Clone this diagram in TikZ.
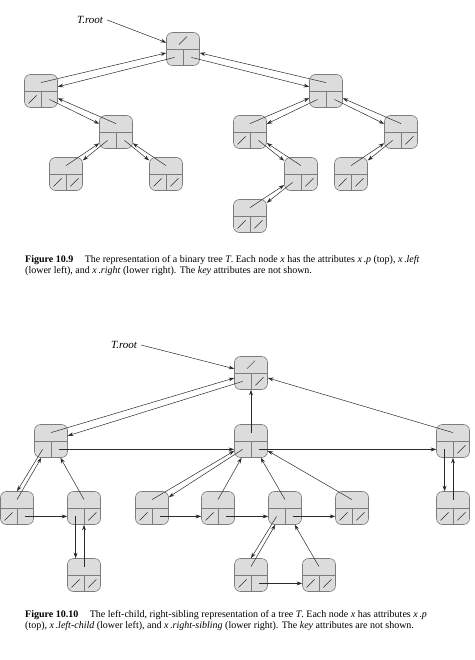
\documentclass[tikz,border=0pt]{standalone}
\usepackage{fontspec}
\setmainfont{Liberation Serif}
\usepackage{tikz}
\usetikzlibrary{arrows.meta,calc,positioning}
\definecolor{Ink}{HTML}{2A2A2A}
\definecolor{Rim}{HTML}{7C7C7C}
\definecolor{Cell}{HTML}{DCDCDC}

\begin{document}
\begin{tikzpicture}[x=1pt,y=-1pt,
  cell/.style={draw=Rim,fill=Cell,rounded corners=6pt,minimum size=33pt,
    inner sep=0pt,line width=0.6pt},
  div/.style={draw=Rim,line width=0.6pt},
  nil/.style={draw=Ink,line width=0.5pt},
  ptr/.style={-{Stealth[length=5.5pt,width=3.8pt]},draw=Ink,line width=0.5pt},
  lbl/.style={font=\fontsize{11}{12}\selectfont\itshape,inner sep=4pt},
  captext/.style={font=\fontsize{10}{10.6}\selectfont,align=left,inner sep=0pt,
    anchor=base west}
]
\useasboundingbox (0,0) rectangle (474,660);

% Figure 10.9: binary tree.
\node[cell] (a0) at (183,49) {};
\node[cell] (a1) at (41,91) {};
\node[cell] (a2) at (326,91) {};
\node[cell] (a12) at (116,132) {};
\node[cell] (a21) at (250,132) {};
\node[cell] (a22) at (401,132) {};
\node[cell] (a121) at (66,174) {};
\node[cell] (a122) at (166,174) {};
\node[cell] (a212) at (301,174) {};
\node[cell] (a221) at (351,174) {};
\node[cell] (a2121) at (250,216) {};
\node[lbl] (troot1) at (90,20) {T.root};

% Figure 10.10: left-child, right-sibling.
\node[cell] (b0) at (251,373) {};
\node[cell] (b1) at (51,441) {};
\node[cell] (b2) at (251,441) {};
\node[cell] (b3) at (453,441) {};
\node[cell] (b11) at (17,508) {};
\node[cell] (b12) at (84,508) {};
\node[cell] (b21) at (152,508) {};
\node[cell] (b22) at (218,508) {};
\node[cell] (b23) at (285,508) {};
\node[cell] (b24) at (352,508) {};
\node[cell] (b31) at (453,508) {};
\node[cell] (b121) at (84,575) {};
\node[cell] (b231) at (251,575) {};
\node[cell] (b232) at (319,575) {};
\node[lbl] (troot2) at (124,345) {T.root};

% fields of every cell: p (top), l (lower left), r (lower right)
\foreach \n in {a0,a1,a2,a12,a21,a22,a121,a122,a212,a221,a2121,
    b0,b1,b2,b3,b11,b12,b21,b22,b23,b24,b31,b121,b231,b232}{
  \draw[div] (\n.west)--(\n.east) (\n.center)--(\n.south);
  \coordinate (\n-p) at ($(\n.center)!0.5!(\n.north)$);
  \coordinate (\n-l) at ($(\n.center)!0.5!(\n.south west)$);
  \coordinate (\n-r) at ($(\n.center)!0.5!(\n.south east)$);
}

% NIL fields
\foreach \f in {a0-p,a1-l,a121-l,a121-r,a122-l,a122-r,a21-l,a212-r,
    a2121-l,a2121-r,a22-r,a221-l,a221-r,
    b0-p,b0-r,b3-r,b11-l,b12-r,b121-l,b121-r,b21-l,b22-l,b24-l,b24-r,
    b31-l,b31-r,b231-l,b232-l,b232-r}
  \draw[nil] ($(\f)+(-4,4)$)--($(\f)+(4,-4)$);

% pointers, Figure 10.9
\draw[ptr] (troot1.east)--(a0);
\draw[ptr] (a1-p)--(a0); \draw[ptr] (a0-l)--(a1);
\draw[ptr] (a2-p)--(a0); \draw[ptr] (a0-r)--(a2);
\draw[ptr] (a12-p)--(a1); \draw[ptr] (a1-r)--(a12);
\draw[ptr] (a121-p)--(a12); \draw[ptr] (a12-l)--(a121);
\draw[ptr] (a122-p)--(a12); \draw[ptr] (a12-r)--(a122);
\draw[ptr] (a21-p)--(a2); \draw[ptr] (a2-l)--(a21);
\draw[ptr] (a22-p)--(a2); \draw[ptr] (a2-r)--(a22);
\draw[ptr] (a212-p)--(a21); \draw[ptr] (a21-r)--(a212);
\draw[ptr] (a2121-p)--(a212); \draw[ptr] (a212-l)--(a2121);
\draw[ptr] (a221-p)--(a22); \draw[ptr] (a22-l)--(a221);

% pointers, Figure 10.10
\draw[ptr] (troot2.east)--(b0);
\draw[ptr] (b1-p)--(b0); \draw[ptr] (b0-l)--(b1);
\draw[ptr] (b2-p)--(b0); \draw[ptr] (b3-p)--(b0);
\draw[ptr] (b1-r)--(b1-r -| b2.west);
\draw[ptr] (b2-r)--(b2-r -| b3.west);
\draw[ptr] (b1-l)--(b11.north); \draw[ptr] (b11-p)--(b1);
\draw[ptr] (b12-p)--(b1);
\draw[ptr] (b11-r)--(b11-r -| b12.west);
\draw[ptr] (b12-l)--(b12-l |- b121.north); \draw[ptr] (b121-p)--(b12);
\draw[ptr] (b2-l)--(b21); \draw[ptr] (b21-p)--(b2);
\draw[ptr] (b22-p)--(b2); \draw[ptr] (b23-p)--(b2); \draw[ptr] (b24-p)--(b2);
\draw[ptr] (b21-r)--(b21-r -| b22.west);
\draw[ptr] (b22-r)--(b22-r -| b23.west);
\draw[ptr] (b23-r)--(b23-r -| b24.west);
\draw[ptr] (b23-l)--(b231.north); \draw[ptr] (b231-p)--(b23);
\draw[ptr] (b232-p)--(b23);
\draw[ptr] (b231-r)--(b231-r -| b232.west);
\draw[ptr] (b3-l)--(b3-l |- b31.north); \draw[ptr] (b31-p)--(b3);

% captions
\node[captext] (cap1) at (25,273) {\textbf{Figure 10.9}\hspace{0.9em} The representation
  of a binary tree \textit{T}. Each node \textit{x} has the attributes
  \textit{x}\,.\textit{p} (top), \textit{x}\,.\textit{left}\\
  (lower left), and \textit{x}\,.\textit{right} (lower right). The \textit{key}
  attributes are not shown.};
\node[captext] (cap2) at (25,628) {\textbf{Figure 10.10}\hspace{0.9em} The left-child,
  right-sibling representation of a tree \textit{T}. Each node \textit{x} has
  attributes \textit{x}\,.\textit{p}\\
  (top), \textit{x}\,.\textit{left-child} (lower left), and
  \textit{x}\,.\textit{right-sibling} (lower right). The \textit{key} attributes
  are not shown.};
\end{tikzpicture}
\end{document}
